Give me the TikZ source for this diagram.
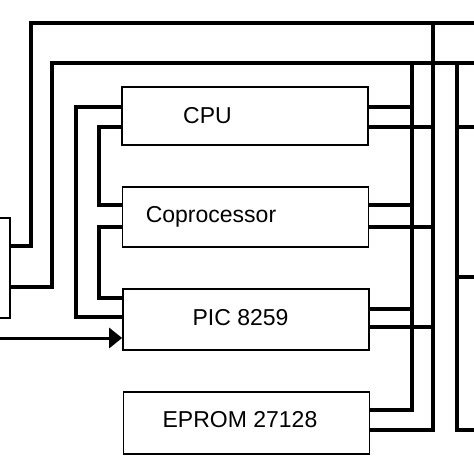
\documentclass[tikz,border=0pt]{standalone}
\usepackage{fontspec}
\setmainfont{Liberation Sans}
\usetikzlibrary{arrows.meta}

\tikzset{
    blk/.style={draw, line width=1.7pt, minimum width=246pt, inner sep=0pt},
    wire/.style={line width=3.2pt},
    lbl/.style={font=\fontsize{23}{26}\selectfont, inner sep=0pt, anchor=base},
}

\begin{document}
\begin{tikzpicture}[x=1pt,y=-1pt]
    \useasboundingbox (0,0) rectangle (474,474);
    \clip (0,0) rectangle (474,474);

    % blocks
    \node[blk, minimum height=58pt] (cpu) at (245,116) {};
    \node[blk, minimum height=60pt] (cop) at (245.5,217) {};
    \node[blk, minimum height=61pt] (pic) at (246,319.5) {};
    \node[blk, minimum height=62pt] (eprom) at (246.5,423) {};
    \node[blk, minimum width=60pt, minimum height=100pt] (ctl) at (-20,268) {};
    \node[blk, wire, minimum width=60pt, minimum height=367pt] (bus) at (487,246.5) {};

    \node[lbl] (cpuT) at (207.5,123) {CPU};
    \node[lbl] (copT) at (211,222) {Coprocessor};
    \node[lbl] (picT) at (240.5,325) {PIC 8259};
    \node[lbl] (epromT) at (240,427) {EPROM 27128};

    % bus lines on the right
    \coordinate (busA) at (412,63);
    \coordinate (busB) at (433,23);
    \coordinate (edgeR) at (474,0);

    \draw[wire, line width=4pt] (eprom.east |- 0,410) -| (busA);
    \draw[wire] (eprom.east |- 0,430) -| (busB);
    \foreach \n/\ya/\yb in {cpu/107/127, cop/205/227, pic/309/327} {
        \draw[wire] (\n.east |- 0,\ya) -- (busA |- 0,\ya);
        \draw[wire] (\n.east |- 0,\yb) -- (busB |- 0,\yb);
    }
    \draw[wire] (bus.west |- 0,127) -- (edgeR |- 0,127);
    \draw[wire] (bus.west |- 0,277) -- (edgeR |- 0,277);

    % lines from the left block
    \draw[wire] (ctl.east |- 0,246) -| (31,23) -- (busB) -- (edgeR |- busB);
    \draw[wire] (ctl.east |- 0,287) -| (52,63) -- (busA) -- (edgeR |- busA);

    % links on the left of the blocks
    \draw[wire] (cpu.west |- 0,107) -| (76,317) -- (pic.west |- 0,317);
    \draw[wire] (cpu.west |- 0,127) -| (99,205) -- (cop.west |- 0,205);
    \draw[wire] (cop.west |- 0,227) -| (99,298) -- (pic.west |- 0,298);
    \draw[line width=3pt, -{Triangle[length=13pt,width=20pt]}] (0,338) -- (pic.west |- 0,338);
\end{tikzpicture}
\end{document}
